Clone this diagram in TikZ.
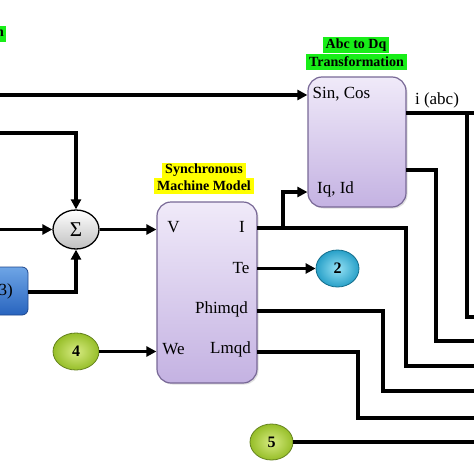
\documentclass[tikz,border=0pt]{standalone}
\usepackage{fontspec}
\setmainfont{Liberation Serif}
\usetikzlibrary{arrows.meta,shapes.geometric,calc,shadows}
\definecolor{blkA}{RGB}{240,234,249}
\definecolor{blkB}{RGB}{196,178,226}
\definecolor{blkE}{RGB}{120,104,150}
\definecolor{hlgreen}{RGB}{24,238,24}
\definecolor{hlyellow}{RGB}{255,255,0}
\definecolor{cyanA}{RGB}{150,226,245}
\definecolor{cyanB}{RGB}{40,160,200}
\definecolor{cyanE}{RGB}{20,110,140}
\definecolor{limeA}{RGB}{215,235,130}
\definecolor{limeB}{RGB}{150,190,40}
\definecolor{limeE}{RGB}{100,130,30}
\definecolor{blueA}{RGB}{110,165,230}
\definecolor{blueB}{RGB}{40,100,190}
\definecolor{blueE}{RGB}{30,70,140}
\begin{document}
\begin{tikzpicture}[x=1pt,y=-1pt,
  wire/.style={line width=3.2pt},
  arr/.style={wire,-{Triangle[length=10pt,width=10pt]}},
  block/.style={draw=blkE,line width=1.2pt,rounded corners=14pt,top color=blkA,bottom color=blkB,inner sep=0pt,drop shadow={opacity=0.25,shadow xshift=1.5pt,shadow yshift=-1.5pt}},
  port/.style={font=\fontsize{17}{17}\selectfont,inner sep=0pt,anchor=base},
  hl/.style={font=\fontsize{14}{14}\selectfont\bfseries,inner xsep=3pt,inner ysep=0pt,minimum height=16pt},
  ball/.style={ellipse,draw=#1E,line width=0.8pt,inner color=#1A,outer color=#1B,inner sep=0pt,font=\fontsize{16}{16}\selectfont\bfseries},
]
\useasboundingbox (0,0) rectangle (474,474);

% blocks
\node[block,minimum width=100pt,minimum height=181pt] (smm) at (207,292.5) {};
\node[block,minimum width=98pt,minimum height=130pt] (abc) at (357,142) {};

% block titles
\node[hl,fill=hlgreen] (t1a) at (356,45) {Abc to Dq};
\node[hl,fill=hlgreen] (t1b) at (356.5,61.5) {Transformation};
\node[hl,fill=hlyellow] (t2a) at (204,170.5) {Synchronous};
\node[hl,fill=hlyellow] (t2b) at (204,185.5) {Machine Model};
\node[hl,fill=hlgreen,anchor=east,inner xsep=2pt] (t0) at (6,33.5) {n};

% port labels
\node[port] (pV) at (173.5,232) {V};
\node[port] (pI) at (242,232) {I};
\node[port] (pTe) at (241,273) {Te};
\node[port] (pPh) at (221.5,313) {Phimqd};
\node[port] (pWe) at (173.5,354) {We};
\node[port] (pLm) at (230.5,353) {Lmqd};
\node[port] (pSC) at (341.5,98) {Sin, Cos};
\node[port] (pIq) at (335.5,193) {Iq, Id};
\node[port] (pabc) at (437,104) {i (abc)};

% sum and circles
\node[ellipse,draw=black,line width=1.3pt,top color=white,bottom color=black!25,minimum width=46pt,minimum height=39pt,inner sep=0pt,font=\fontsize{21}{21}\selectfont] (sum) at (76,229.5) {Σ};
\node[ball=cyan,minimum width=43pt,minimum height=37pt] (n2) at (337.5,268.5) {2};
\node[ball=lime,minimum width=46pt,minimum height=37pt] (n4) at (76,351.5) {4};
\node[ball=lime,minimum width=43pt,minimum height=36pt] (n5) at (271.5,442) {5};
\node[draw=blueE,line width=0.8pt,rounded corners=6pt,top color=blueA,bottom color=blueB,minimum width=100pt,minimum height=48pt,inner sep=0pt] (b3) at (-22,291) {};
\node[font=\fontsize{17}{17}\selectfont,anchor=east,inner sep=0pt] (b3t) at (13,291) {(3)};

% free ends
\coordinate (in1) at (-2,95);
\coordinate (in2) at (-2,133);
\coordinate (in3) at (-2,229.5);
\coordinate (eA) at (476,113);
\coordinate (eB) at (476,317);
\coordinate (eC) at (476,341);
\coordinate (eI) at (476,366);
\coordinate (eP) at (476,391);
\coordinate (eL) at (476,418);
\coordinate (e5) at (476,442);
\coordinate (oI) at (257,228);
\coordinate (jI) at (283,228);
\coordinate (oTe) at (257,268.5);
\coordinate (oPh) at (257,311);
\coordinate (oLm) at (257,352);
\coordinate (oA) at (406,113);
\coordinate (jA) at (467,113);
\coordinate (oB) at (406,170);

% wires
\draw[arr] (in1) -- (in1 -| abc.west);
\draw[arr] (in2) -| (sum.north);
\draw[arr] (in3) -- (sum.west);
\draw[arr] (b3.east |- 0,292) -| (sum.south);
\draw[arr] (sum.east) -- (sum.east -| smm.west);
\draw[arr] (n4.east) -- (n4.east -| smm.west);
\draw[wire] (oI) -| (406,366) -- (eI);
\draw[arr] (jI) |- (abc.west |- 0,192);
\draw[arr] (oTe) -- (n2.west);
\draw[wire] (oPh) -| (383,391) -- (eP);
\draw[wire] (oLm) -| (358,418) -- (eL);
\draw[wire] (n5.east) -- (e5);
\draw[wire] (oA) -- (eA);
\draw[wire] (jA) |- (eB);
\draw[wire] (oB) -| (436,341) -- (eC);
\end{tikzpicture}
\end{document}
